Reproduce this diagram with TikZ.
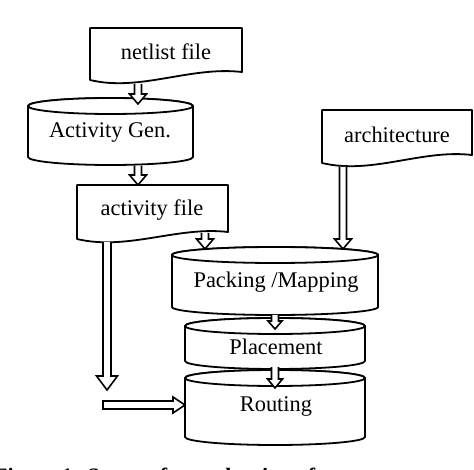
\documentclass[tikz,border=0pt]{standalone}
\usepackage{fontspec}
\setmainfont{Liberation Serif}
\usetikzlibrary{calc}
\tikzset{
  shp/.style={draw=black, line width=1.8pt, fill=white, line join=round},
  lbl/.style={font=\fontsize{22.4}{26}\selectfont, inner sep=0pt},
  blk/.style={draw=black, line width=1.6pt, fill=white, line join=miter},
}
% vertical block arrow: start, end, shaft half width, head half width, head length
\newcommand\varr[5]{%
  \path[blk] let \p1=#1, \p2=#2 in
    (\x1-#3,\y1) -- (\x1-#3,\y2+#5) -- (\x1-#4,\y2+#5) -- (\x1,\y2)
    -- (\x1+#4,\y2+#5) -- (\x1+#3,\y2+#5) -- (\x1+#3,\y1);}
% horizontal block arrow (closed tail)
\newcommand\harr[5]{%
  \path[blk] let \p1=#1, \p2=#2 in
    (\x1,\y1-#3) -- (\x2-#5,\y1-#3) -- (\x2-#5,\y1-#4) -- (\x2,\y1)
    -- (\x2-#5,\y1+#4) -- (\x2-#5,\y1+#3) -- (\x1,\y1+#3) -- cycle;}
% cylinder: name, left, top, right, bottom
\newcommand\cyl[5]{%
  \pgfmathsetmacro\cxx{(#2+#4)/2}\pgfmathsetmacro\crr{(#4-#2)/2}%
  \path[shp] (#2,#3+8) -- (#2,#5-8)
    arc[start angle=180,end angle=360,x radius=\crr pt,y radius=8pt]
    -- (#4,#3+8)
    arc[start angle=0,end angle=180,x radius=\crr pt,y radius=8pt] -- cycle;
  \draw[shp] (\cxx,#3+8) ellipse[x radius=\crr pt,y radius=8pt];
  \coordinate (#1C) at (\cxx,#3+8);}
\begin{document}
\begin{tikzpicture}[x=1pt,y=-1pt]
\useasboundingbox (0,0) rectangle (474,470);
\clip (0,0) rectangle (474,470);

% documents
\path[shp] (90,28) -- (242,28) -- (242,72) .. controls (190,66) and (140,92) .. (90,80) -- cycle;
\node[lbl] (net) at (166,52) {netlist file};
\path[shp] (77,185) -- (228,185) -- (228,232) .. controls (178,226) and (127,251) .. (77,239) -- cycle;
\node[lbl] (actf) at (152,210) {activity file};
\path[shp] (322,110) -- (472,110) -- (472,155) .. controls (422,149) and (372,175) .. (322,163) -- cycle;
\node[lbl] (arch) at (397,135) {architecture};

% cylinders
\cyl{gen}{28}{98}{193}{165}
\node[lbl] (actgen) at (110,133) {Activity Gen.};
\cyl{pack}{172}{247}{378}{315}
\node[lbl] (packing) at (276,282) {Packing /Mapping};
\cyl{route}{185}{370}{365}{445}
\node[lbl] (routing) at (276,407) {Routing};
\cyl{place}{185}{318}{365}{369}
\node[lbl] (placement) at (276,347) {Placement};

% connector end points
\coordinate (netB) at (138,84);
\coordinate (genT) at (138,104);
\coordinate (genB) at (138,166);
\coordinate (actfT) at (138,185);
\coordinate (actfB1) at (205,233);
\coordinate (packT1) at (205,249);
\coordinate (archB) at (343,167);
\coordinate (packT2) at (343,249);
\coordinate (actfB2) at (107,242);
\coordinate (longE) at (107,390);
\coordinate (hS) at (103,405);
\coordinate (routeL) at (185,405);
\coordinate (packB) at (275,315);
\coordinate (placeT) at (275,329);
\coordinate (placeB) at (275,367);
\coordinate (routeT) at (275,388);

% arrows
\varr{(netB)}{(genT)}{3.5pt}{8.5pt}{10pt}
\varr{(genB)}{(actfT)}{3.5pt}{8.5pt}{10pt}
\varr{(actfB1)}{(packT1)}{3.5pt}{8.5pt}{10pt}
\varr{(archB)}{(packT2)}{3.5pt}{8.5pt}{10pt}
\varr{(actfB2)}{(longE)}{4pt}{10.5pt}{14pt}
\harr{(hS)}{(routeL)}{4pt}{8pt}{12pt}
\varr{(packB)}{(placeT)}{3.5pt}{7pt}{8pt}
\varr{(placeB)}{(routeT)}{3.5pt}{7.5pt}{9pt}

% caption (cut by the lower edge, as in the reference)
\node[anchor=base west, inner sep=0pt, font=\fontsize{22}{26}\selectfont\bfseries] (cap) at (-6,483) {Figure 1: System for evaluation of power consumption};
\end{tikzpicture}
\end{document}
